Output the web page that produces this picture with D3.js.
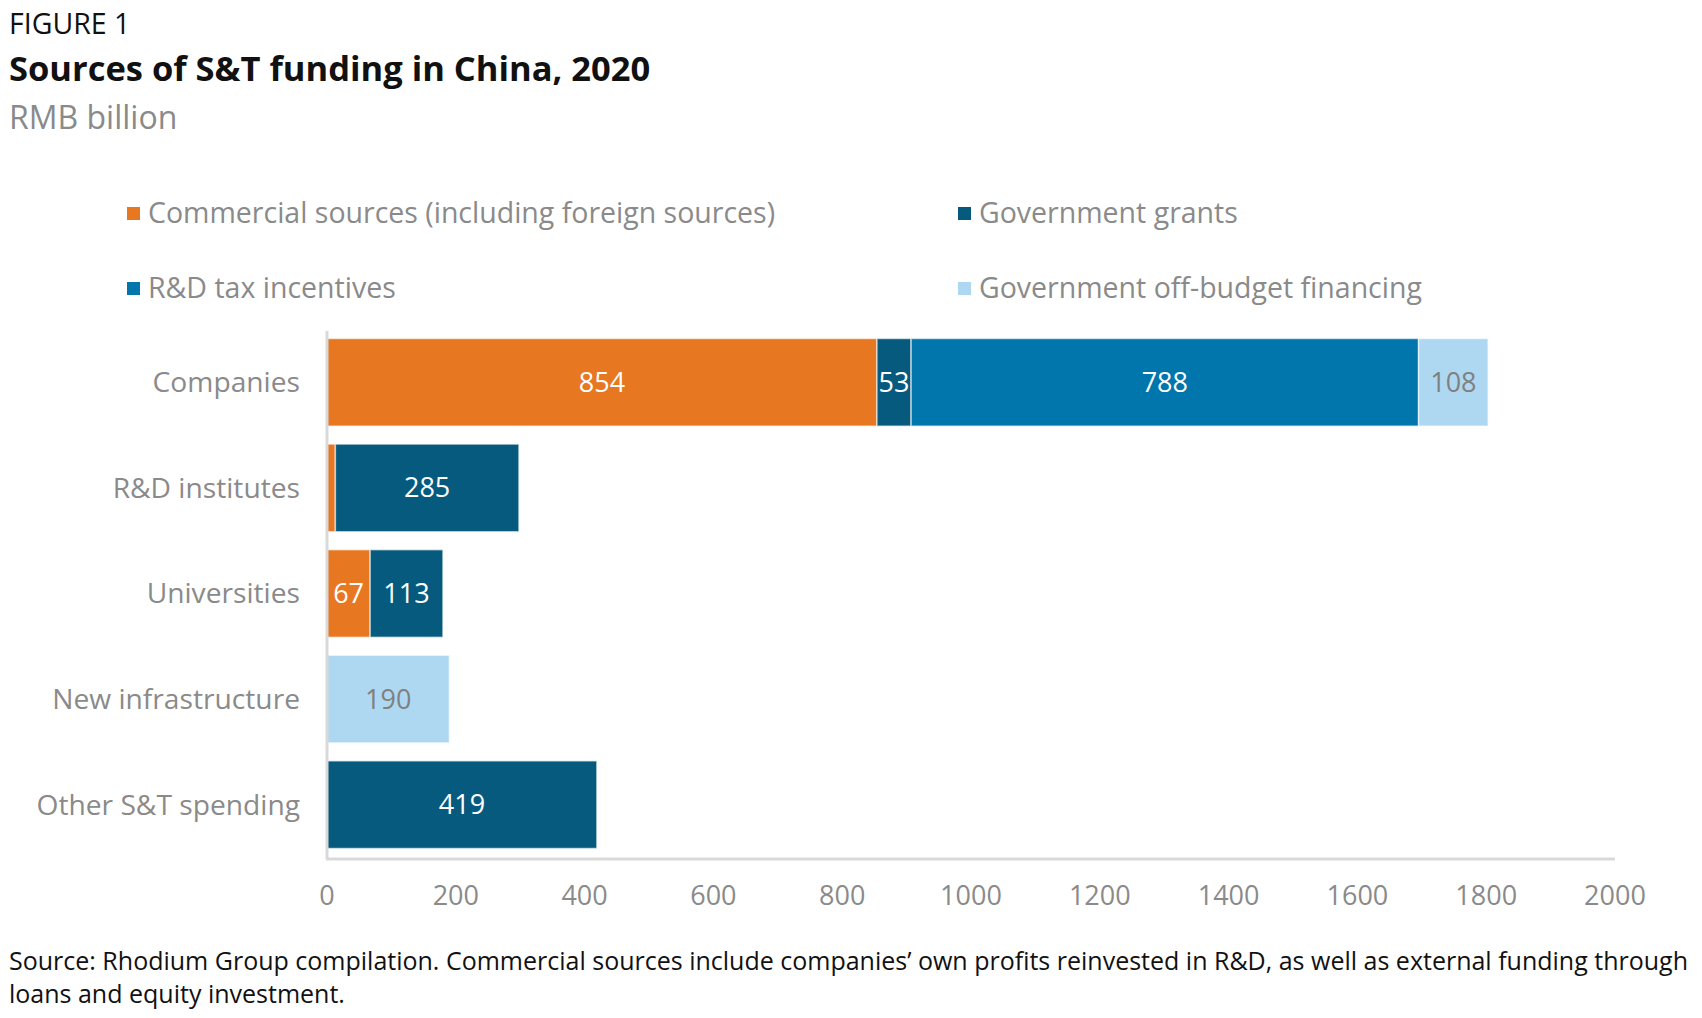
<!DOCTYPE html>
<html>
<head>
<meta charset="utf-8">
<script src="https://cdn.jsdelivr.net/npm/d3@7"></script>
<style>
  body { margin: 0; background: #fff; }
  svg { display: block; font-family: "Open Sans", "Noto Sans", sans-serif; }
</style>
</head>
<body>
<svg id="chart" width="1702" height="1018"></svg>
<script>
// Categories (top to bottom)
const categories = ["Companies", "R&D institutes", "Universities", "New infrastructure", "Other S&T spending"];

// Series, in stacking order
const seriesNames = [
  "Commercial sources (including foreign sources)",
  "Government grants",
  "R&D tax incentives",
  "Government off-budget financing"
];
const commercial = [854, 13, 67, 0, 0];
const grants     = [53, 285, 113, 0, 419];
const taxIncent  = [788, 0, 0, 0, 0];
const offBudget  = [108, 0, 0, 190, 0];

const xTicks = [0, 200, 400, 600, 800, 1000, 1200, 1400, 1600, 1800, 2000];

const COLORS = ["#E87722", "#065A7E", "#0076AC", "#AED8F1"];
const LABEL_COLORS = ["#ffffff", "#ffffff", "#ffffff", "#808080"];

const svg = d3.select("#chart");
const grey = "#8a8a8a";

// Header
svg.append("text").attr("x", 9).attr("y", 34)
  .style("font-size", "28.5px").style("fill", "#111").text("FIGURE 1");
svg.append("text").attr("x", 9).attr("y", 81)
  .style("font-size", "34.5px").style("font-weight", "bold").style("fill", "#111")
  .text("Sources of S&T funding in China, 2020");
svg.append("text").attr("x", 9).attr("y", 129)
  .style("font-size", "32px").style("fill", grey).text("RMB billion");

// Legend: two columns, two rows, order = commercial, grants / tax, off-budget
const legendItems = [
  {i: 0, x: 127, y: 213},
  {i: 1, x: 958, y: 213},
  {i: 2, x: 127, y: 288},
  {i: 3, x: 958, y: 288}
];
const legend = svg.append("g");
legendItems.forEach(d => {
  legend.append("rect")
    .attr("x", d.x).attr("y", d.y - 6)
    .attr("width", 13).attr("height", 13)
    .style("fill", COLORS[d.i]);
  legend.append("text")
    .attr("x", d.x + 21).attr("y", d.y)
    .attr("dy", "0.35em")
    .style("font-size", "28.5px").style("fill", grey)
    .text(seriesNames[d.i]);
});

// Scales
const x = d3.scaleLinear().domain([0, 2000]).range([327, 1615]);
const y = d3.scaleBand().domain(categories).range([329, 858])
  .paddingInner(0.17).paddingOuter(0.09);

// Stacked data
const table = categories.map((c, k) => ({
  cat: c,
  s0: commercial[k], s1: grants[k], s2: taxIncent[k], s3: offBudget[k]
}));
const stack = d3.stack().keys(["s0", "s1", "s2", "s3"])(table);

const bars = svg.append("g");
stack.forEach((layer, li) => {
  layer.forEach(seg => {
    const v = seg[1] - seg[0];
    if (v <= 0) return;
    bars.append("rect")
      .attr("x", x(seg[0]))
      .attr("y", y(seg.data.cat))
      .attr("width", x(seg[1]) - x(seg[0]))
      .attr("height", y.bandwidth())
      .style("fill", COLORS[li])
      .style("stroke", "#ffffff")
      .style("stroke-opacity", 0.6)
      .style("stroke-width", 1.5);
    if (v >= 40) {
      bars.append("text")
        .attr("x", (x(seg[0]) + x(seg[1])) / 2)
        .attr("y", y(seg.data.cat) + y.bandwidth() / 2)
        .attr("dy", "0.35em")
        .attr("text-anchor", "middle")
        .style("font-size", "27px")
        .style("fill", LABEL_COLORS[li])
        .text(v);
    }
  });
});

// Category labels
svg.append("g").selectAll("text").data(categories).join("text")
  .attr("x", 300)
  .attr("y", d => y(d) + y.bandwidth() / 2)
  .attr("dy", "0.35em")
  .attr("text-anchor", "end")
  .style("font-size", "28.2px").style("fill", grey)
  .text(d => d);

// Axes lines
svg.append("line")
  .attr("x1", 327).attr("x2", 327).attr("y1", 331).attr("y2", 859)
  .style("stroke", "#d9d9d9").style("stroke-width", 3);
svg.append("line")
  .attr("x1", 326).attr("x2", x(2000)).attr("y1", 859).attr("y2", 859)
  .style("stroke", "#d9d9d9").style("stroke-width", 3);

// X tick labels
svg.append("g").selectAll("text").data(xTicks).join("text")
  .attr("x", d => x(d))
  .attr("y", 896)
  .attr("dy", "0.35em")
  .attr("text-anchor", "middle")
  .style("font-size", "27px").style("fill", grey)
  .text(d => d);

// Source note
const note = svg.append("text").attr("x", 9).attr("y", 970)
  .style("font-size", "25px").style("fill", "#111");
note.append("tspan").attr("x", 9).attr("y", 970)
  .text("Source: Rhodium Group compilation. Commercial sources include companies\u2019 own profits reinvested in R&D, as well as external funding through");
note.append("tspan").attr("x", 9).attr("y", 1003)
  .text("loans and equity investment.");
</script>
</body>
</html>
